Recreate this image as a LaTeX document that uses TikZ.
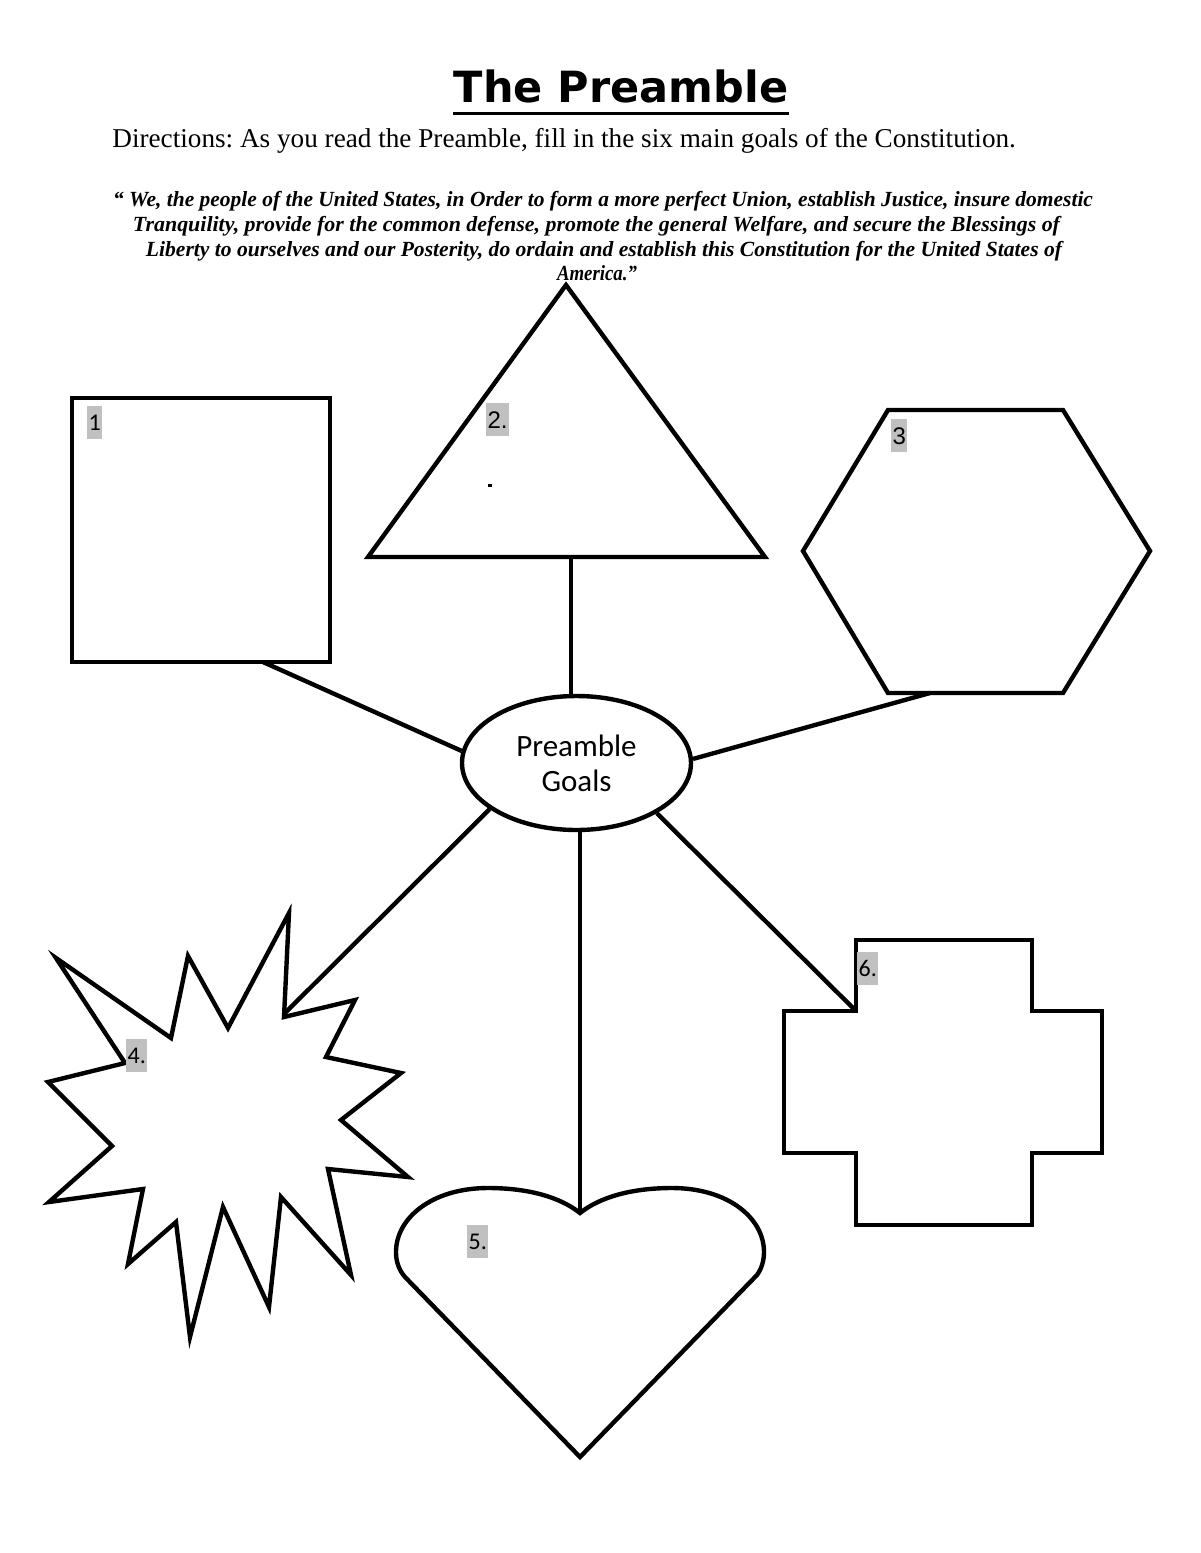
\documentclass[tikz,border=0pt]{standalone}
\usepackage{fontspec}
\usepackage{graphicx}
\setmainfont{Liberation Serif}
\newfontfamily\titlefont{DejaVu Sans}
\newfontfamily\calfont{Carlito}
\newfontfamily\arialfont{Liberation Sans}
\usetikzlibrary{shapes.geometric}
\definecolor{labelgray}{RGB}{192,192,192}
\frenchspacing
\begin{document}
\begin{tikzpicture}[x=0.5pt,y=-0.5pt,
  shapeline/.style={line width=2.2pt, line join=miter},
  conn/.style={line width=2.2pt},
  numlabel/.style={fill=labelgray, inner xsep=0.6pt, inner ysep=0pt, anchor=north west,
    minimum height=16.5pt, font=\fontsize{12pt}{14pt}\selectfont},
  quoteline/.style={anchor=base, inner sep=0pt, font=\fontsize{10.8pt}{12.5pt}\selectfont\bfseries\itshape}
]
\fill[white] (0,0) rectangle (1200,1553);
\useasboundingbox (0,0) rectangle (1200,1553);

% Title and directions
\node[inner sep=0pt, anchor=base, font=\titlefont\fontsize{21.5pt}{25pt}\selectfont\bfseries] (title) at (621,102) {The Preamble};
\draw[line width=1.5pt] ([yshift=-5.75pt]title.base west) -- ([yshift=-5.75pt]title.base east);
\node[inner sep=0pt, anchor=base west, font=\fontsize{13.6pt}{16pt}\selectfont] (dir) at (112,147)
  {Directions: As you read the Preamble, fill in the six main goals of the Constitution.};

% Quote
\node[quoteline] (q1) at (603,206) {\resizebox{490pt}{\height}{“ We, the people of the United States, in Order to form a more perfect Union, establish Justice, insure domestic}};
\node[quoteline] (q2) at (596.5,231) {\resizebox{463.5pt}{\height}{Tranquility, provide for the common defense, promote the general Welfare, and secure the Blessings of}};
\node[quoteline] (q3) at (604,256) {\resizebox{458pt}{\height}{Liberty to ourselves and our Posterity, do ordain and establish this Constitution for the United States of}};
\node[quoteline] (q4) at (597,280) {\resizebox{40pt}{\height}{America.”}};

% Shape 1: square
\draw[shapeline] (72,398) rectangle (330,662);
\coordinate (sqatt) at (263,662);
\node[numlabel, font=\calfont\fontsize{12pt}{14pt}\selectfont] (l1) at (87,406) {1};

% Shape 2: triangle
\draw[shapeline] (566,285) -- (765,557) -- (368,557) -- cycle;
\coordinate (triatt) at (571,557);
\node[numlabel, font=\arialfont\fontsize{12pt}{14pt}\selectfont] (l2) at (486,403) {2.};
\fill (488,484) rectangle (492,487);

% Shape 3: hexagon
\draw[shapeline] (888,410) -- (1063,410) -- (1150,551) -- (1063,693) -- (888,693) -- (803,551) -- cycle;
\coordinate (hexatt) at (930,693);
\node[numlabel, font=\arialfont\fontsize{12pt}{14pt}\selectfont] (l3) at (891,419) {3};

% Shape 4: burst
\draw[shapeline] (56,958) -- (171,1038) -- (188,956) -- (228,1028) -- (289,913) -- (284,1017)
  -- (355,1000) -- (326,1057) -- (401,1073) -- (341,1120) -- (408,1177) -- (328,1169)
  -- (351,1275) -- (281,1197) -- (269,1307) -- (223,1207) -- (190,1337) -- (176,1222)
  -- (128,1264) -- (143,1189) -- (49,1202) -- (112,1146) -- (48,1082) -- (125,1063) -- cycle;
\coordinate (staratt) at (285,1013);
\node[numlabel, font=\calfont\fontsize{12pt}{14pt}\selectfont] (l4) at (126,1039) {4.};

% Shape 5: heart
\draw[shapeline] (580,1213) .. controls (560,1197) and (528,1188) .. (488,1188)
  .. controls (432,1188) and (396,1218) .. (396,1252)
  .. controls (396,1262) and (399,1270) .. (405,1277)
  -- (580,1457) -- (757,1275)
  .. controls (762,1268) and (764,1260) .. (764,1252)
  .. controls (764,1218) and (728,1188) .. (672,1188)
  .. controls (632,1188) and (600,1197) .. (580,1213) -- cycle;
\coordinate (heartatt) at (580,1213);
\node[numlabel, font=\calfont\fontsize{12pt}{14pt}\selectfont] (l5) at (467,1225) {5.};

% Shape 6: cross
\draw[shapeline] (856,940) -- (1032,940) -- (1032,1011) -- (1102,1011) -- (1102,1153) -- (1032,1153)
  -- (1032,1225) -- (856,1225) -- (856,1153) -- (784,1153) -- (784,1011) -- (856,1011) -- cycle;
\coordinate (crossatt) at (856,1011);
\node[numlabel, font=\calfont\fontsize{12pt}{14pt}\selectfont] (l6) at (857,952) {6.};

% Centre ellipse
\node[ellipse, draw, line width=2.2pt, fill=white, inner sep=0pt, minimum width=114.5pt, minimum height=67pt,
  align=center, font=\calfont\fontsize{15.5pt}{17.5pt}\selectfont] (goals) at (576.5,763) {Preamble\\Goals};

% Connectors
\draw[conn] (sqatt) -- (goals.174);
\draw[conn] (triatt) -- (triatt |- goals.north);
\draw[conn] (hexatt) -- (goals.2);
\draw[conn] (goals.208) -- (staratt);
\draw[conn] (heartatt |- goals.south) -- (heartatt);
\draw[conn] (goals.328) -- (crossatt);
\end{tikzpicture}
\end{document}
